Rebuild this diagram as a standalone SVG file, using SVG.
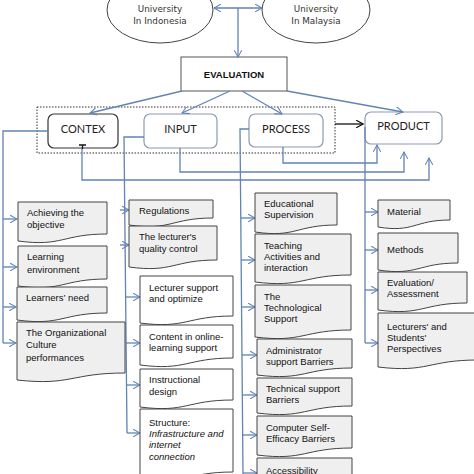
<svg xmlns="http://www.w3.org/2000/svg" width="474" height="474" viewBox="0 0 474 474">
<defs>
<marker id="ab" viewBox="0 0 10 10" refX="9" refY="5" markerWidth="8" markerHeight="8" markerUnits="userSpaceOnUse" orient="auto-start-reverse">
<path d="M0,0 L9,5 L0,10" fill="none" stroke="#6183b5" stroke-width="1.3"/>
</marker>
<marker id="ak" viewBox="0 0 10 10" refX="9" refY="5" markerWidth="8" markerHeight="8" markerUnits="userSpaceOnUse" orient="auto">
<path d="M0,0 L9,5 L0,10" fill="none" stroke="#111" stroke-width="1.5"/>
</marker>
</defs>
<style>
.bg{fill:#fff}
.ell{fill:#fff;stroke:#444;stroke-width:1}
.ut{font-family:"DejaVu Sans",sans-serif;font-size:8.8px;fill:#333;text-anchor:middle}
.ev{fill:#fff;stroke:#555;stroke-width:1}
.evt{font-family:"Liberation Sans",Arial,sans-serif;font-size:9.5px;font-weight:bold;fill:#111;text-anchor:middle}
.cb{fill:#fff;stroke:#8d9ab0;stroke-width:1.2}
.cbk{fill:#fff;stroke:#333;stroke-width:1.2}
.ct{font-family:Lato,"Liberation Sans",sans-serif;font-size:11px;fill:#222;text-anchor:middle}
.doc{fill:#efefef;stroke:#444;stroke-width:1}
.docw{fill:#fff;stroke:#444;stroke-width:1}
.dt{font-family:"Liberation Sans",Arial,sans-serif;font-size:9.5px;fill:#111}
.it{font-style:italic}
.ln{fill:none;stroke:#6183b5;stroke-width:1.3}
.lk{fill:none;stroke:#111;stroke-width:1.3}
.dash{fill:none;stroke:#333;stroke-width:1;stroke-dasharray:1.5,1.5}
</style>
<rect class="bg" x="0" y="0" width="474" height="474"/>

<g id="univ-indonesia">
<ellipse class="ell" cx="160" cy="10" rx="53" ry="33"/>
<text class="ut" x="160" y="11.5">University</text>
<text class="ut" x="160" y="23.5">In Indonesia</text>
</g>
<g id="univ-malaysia">
<ellipse class="ell" cx="316" cy="10" rx="54" ry="33"/>
<text class="ut" x="316" y="11.5">University</text>
<text class="ut" x="316" y="23.5">In Malaysia</text>
</g>

<g id="evaluation">
<rect class="ev" x="181" y="57" width="106" height="34"/>
<text class="evt" x="234" y="77.5">EVALUATION</text>
</g>

<rect id="cipp-frame" class="dash" x="37" y="107" width="298" height="46"/>

<g id="contex">
<rect class="cbk" x="48" y="114" width="70" height="34" rx="6"/>
<text class="ct" x="83" y="133">CONTEX</text>
</g>
<g id="input">
<rect class="cb" x="144" y="114" width="73" height="34" rx="6"/>
<text class="ct" x="180.5" y="133">INPUT</text>
</g>
<g id="process">
<rect class="cb" x="249" y="114" width="74" height="33" rx="6"/>
<text class="ct" x="286" y="133">PROCESS</text>
</g>
<g id="product">
<rect class="cb" x="365" y="112" width="77" height="32" rx="6"/>
<text class="ct" x="403.5" y="130">PRODUCT</text>
</g>

<g id="connectors">
<path class="ln" d="M214,8 H262" marker-start="url(#ab)" marker-end="url(#ab)"/>
<path class="ln" d="M238,8 V57" marker-end="url(#ab)"/>
<path class="ln" d="M182,91 L90,113" marker-end="url(#ab)"/>
<path class="ln" d="M230,91 L182,113" marker-end="url(#ab)"/>
<path class="ln" d="M242,91 L282,114" marker-end="url(#ab)"/>
<path class="ln" d="M287,91 L403,112" marker-end="url(#ab)"/>
<path class="lk" d="M335,124 H363" marker-end="url(#ak)"/>
<path class="lk" d="M79,145 H86 M82.5,145 V149"/>
<path class="ln" d="M283,147 V163 H377 V145" marker-end="url(#ab)"/>
<path class="ln" d="M180,148 V172 H404 V152" marker-end="url(#ab)"/>
<path class="ln" d="M82,149 V180 H429 V158" marker-end="url(#ab)"/>
<path class="ln" d="M48,131 H3 V343"/>
<path class="ln" d="M3,219 H17" marker-end="url(#ab)"/>
<path class="ln" d="M3,267 H17" marker-end="url(#ab)"/>
<path class="ln" d="M3,307 H16" marker-end="url(#ab)"/>
<path class="ln" d="M3,343 H16" marker-end="url(#ab)"/>
<path class="ln" d="M144,137 H124 L127,433"/>
<path class="ln" d="M120,210 H129" marker-end="url(#ab)"/>
<path class="ln" d="M120,245 H129" marker-end="url(#ab)"/>
<path class="ln" d="M126,297 H140" marker-end="url(#ab)"/>
<path class="ln" d="M126,343 H140" marker-end="url(#ab)"/>
<path class="ln" d="M127,385 H140" marker-end="url(#ab)"/>
<path class="ln" d="M127,433 H140" marker-end="url(#ab)"/>
<path class="ln" d="M249,129 H240 L243,474"/>
<path class="ln" d="M241,218 H255" marker-end="url(#ab)"/>
<path class="ln" d="M241,260 H255" marker-end="url(#ab)"/>
<path class="ln" d="M241,307 H255" marker-end="url(#ab)"/>
<path class="ln" d="M242,355 H257" marker-end="url(#ab)"/>
<path class="ln" d="M242,395 H257" marker-end="url(#ab)"/>
<path class="ln" d="M243,435 H257" marker-end="url(#ab)"/>
<path class="ln" d="M243,473 H257" marker-end="url(#ab)"/>
<path class="ln" d="M365,127 V343"/>
<path class="ln" d="M365,212 H378" marker-end="url(#ab)"/>
<path class="ln" d="M365,250 H378" marker-end="url(#ab)"/>
<path class="ln" d="M365,290 H378" marker-end="url(#ab)"/>
<path class="ln" d="M365,343 H378" marker-end="url(#ab)"/>
</g>

<g id="achieving">
<path class="doc" d="M18,202 H107 V234 C62.5,234 62.5,247 18,241 Z"/>
<text class="dt" x="27" y="215.5">Achieving the</text>
<text class="dt" x="27" y="227.5">objective</text>
</g>
<g id="learning-env">
<path class="doc" d="M18,246 H107 V279 C62.5,279 62.5,292 18,286 Z"/>
<text class="dt" x="27" y="260">Learning</text>
<text class="dt" x="27" y="272.5">environment</text>
</g>
<g id="learners-need">
<path class="doc" d="M17,287 H107 V313 C62,313 62,326 17,320 Z"/>
<text class="dt" x="26" y="300.5">Learners’ need</text>
</g>
<g id="org-culture">
<path class="doc" d="M17,322 H125 V373 C71,373 71,386 17,380 Z"/>
<text class="dt" x="26" y="335.5">The Organizational</text>
<text class="dt" x="26" y="348">Culture</text>
<text class="dt" x="26" y="360.5">performances</text>
</g>

<g id="regulations">
<path class="doc" d="M129,200 H213 V218 C171,218 171,231 129,225 Z"/>
<text class="dt" x="139" y="213.5">Regulations</text>
</g>
<g id="quality-control">
<path class="doc" d="M129,226 H217 V260 C173,260 173,273 129,267 Z"/>
<text class="dt" x="139" y="239.5">The lecturer's</text>
<text class="dt" x="139" y="252">quality control</text>
</g>
<g id="lecturer-support">
<path class="docw" d="M140,276 H233 V316 C186.5,316 186.5,329 140,323 Z"/>
<text class="dt" x="149" y="290.5">Lecturer support</text>
<text class="dt" x="149" y="302">and optimize</text>
</g>
<g id="content-online">
<path class="docw" d="M140,325 H233 V358 C186.5,358 186.5,371 140,365 Z"/>
<text class="dt" x="149" y="339.5">Content in online-</text>
<text class="dt" x="149" y="351">learning support</text>
</g>
<g id="instructional">
<path class="docw" d="M140,369 H233 V400 C186.5,400 186.5,413 140,407 Z"/>
<text class="dt" x="149" y="382.5">Instructional</text>
<text class="dt" x="149" y="394.5">design</text>
</g>
<g id="structure">
<path class="docw" d="M140,409 H233 V472 C186.5,472 186.5,485 140,479 Z"/>
<text class="dt" x="149" y="425.5">Structure:</text>
<text class="dt it" x="149" y="437">Infrastructure and</text>
<text class="dt it" x="149" y="448">internet</text>
<text class="dt it" x="149" y="459.5">connection</text>
</g>

<g id="edu-supervision">
<path class="doc" d="M255,193 H337 V225 C296,225 296,238 255,232 Z"/>
<text class="dt" x="264" y="206.5">Educational</text>
<text class="dt" x="264" y="218">Supervision</text>
</g>
<g id="teaching">
<path class="doc" d="M255,234 H351 V275 C303,275 303,288 255,282 Z"/>
<text class="dt" x="264" y="248.5">Teaching</text>
<text class="dt" x="264" y="259.5">Activities and</text>
<text class="dt" x="264" y="270.5">interaction</text>
</g>
<g id="tech-support">
<path class="doc" d="M255,285 H351 V330 C303,330 303,343 255,337 Z"/>
<text class="dt" x="264" y="299.5">The</text>
<text class="dt" x="264" y="310.5">Technological</text>
<text class="dt" x="264" y="321.5">Support</text>
</g>
<g id="admin-barriers">
<path class="doc" d="M257,339 H352 V368 C304.5,368 304.5,381 257,375 Z"/>
<text class="dt" x="266" y="353.5">Administrator</text>
<text class="dt" x="266" y="364.5">support Barriers</text>
</g>
<g id="technical-barriers">
<path class="doc" d="M257,378 H352 V406 C304.5,406 304.5,419 257,413 Z"/>
<text class="dt" x="266" y="391.5">Technical support</text>
<text class="dt" x="266" y="402.5">Barriers</text>
</g>
<g id="self-efficacy">
<path class="doc" d="M257,416 H352 V448 C304.5,448 304.5,461 257,455 Z"/>
<text class="dt" x="266" y="430.5">Computer Self-</text>
<text class="dt" x="266" y="441.5">Efficacy Barriers</text>
</g>
<g id="accessibility">
<path class="doc" d="M257,458 H352 V492 C304.5,492 304.5,505 257,499 Z"/>
<text class="dt" x="266" y="473.5">Accessibility</text>
</g>

<g id="material">
<path class="doc" d="M378,200 H450 V220 C414,220 414,233 378,227 Z"/>
<text class="dt" x="387" y="214.5">Material</text>
</g>
<g id="methods">
<path class="doc" d="M378,233 H458 V263 C418,263 418,276 378,270 Z"/>
<text class="dt" x="387" y="252.5">Methods</text>
</g>
<g id="evaluation-assessment">
<path class="doc" d="M378,272 H467 V303 C422.5,303 422.5,316 378,310 Z"/>
<text class="dt" x="387" y="285.5">Evaluation/</text>
<text class="dt" x="387" y="296.5">Assessment</text>
</g>
<g id="perspectives">
<path class="doc" d="M378,313 H478 V360 C428,360 428,373 378,367 Z"/>
<text class="dt" x="387" y="329.5">Lecturers' and</text>
<text class="dt" x="387" y="340.5">Students'</text>
<text class="dt" x="387" y="351.5">Perspectives</text>
</g>
</svg>
